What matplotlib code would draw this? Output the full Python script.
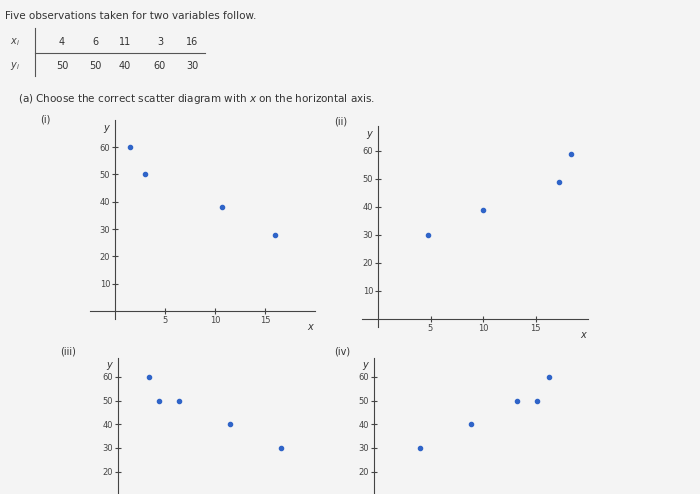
import matplotlib
matplotlib.use("Agg")
import matplotlib.pyplot as plt
from matplotlib.lines import Line2D

W, H = 700, 494
x_obs = [4, 6, 11, 3, 16]
y_obs = [50, 50, 40, 60, 30]
# points
p1x = [1.5, 3, 10.7, 16]; p1y = [60, 50, 38, 28]
p2x = [18.4, 17.2, 10, 4.8]; p2y = [59, 49, 39, 30]
p3x = [3, 4, 6, 11, 16]; p3y = [60, 50, 50, 40, 30]
p4x = [4.5, 9.5, 14, 16, 17.2]; p4y = [30, 40, 50, 50, 60]

fig = plt.figure(figsize=(7, 4.94), dpi=100)
fig.patch.set_facecolor("#f4f4f4")
def fx(px): return px / W
def fy(py): return 1 - py / H

fig.text(fx(5), fy(16), "Five observations taken for two variables follow.", fontsize=7.5, va="center", color="#333")
fig.text(fx(10), fy(42), "$x_i$", fontsize=7, va="center", color="#444")
fig.text(fx(10), fy(66), "$y_i$", fontsize=7, va="center", color="#444")
xs = [62, 95, 125, 160, 192]
for i in range(5):
    fig.text(fx(xs[i]), fy(42), str(x_obs[i]), fontsize=7, ha="center", va="center", color="#333")
    fig.text(fx(xs[i]), fy(66), str(y_obs[i]), fontsize=7, ha="center", va="center", color="#333")
fig.add_artist(Line2D([fx(35), fx(35)], [fy(28), fy(76)], color="#555", lw=0.8))
fig.add_artist(Line2D([fx(35), fx(205)], [fy(53), fy(53)], color="#555", lw=0.8))
fig.text(fx(18), fy(99), "(a) Choose the correct scatter diagram with $x$ on the horizontal axis.", fontsize=7.5, va="center", color="#333")
for lab, px, py in [("(i)", 40, 119), ("(ii)", 334, 122), ("(iii)", 60, 352), ("(iv)", 334, 352)]:
    fig.text(fx(px), fy(py), lab, fontsize=7, va="center", color="#333")

def panel(x0, xs_, y0, ys_, xlim, ylim, px, py, full=True):
    left = x0 + xlim[0] * xs_
    right = x0 + xlim[1] * xs_
    top = y0 - ylim[1] * ys_
    bot = y0 - ylim[0] * ys_
    ax = fig.add_axes([fx(left), fy(bot), (right - left) / W, (bot - top) / H])
    ax.set_facecolor("none")
    ax.set_xlim(*xlim); ax.set_ylim(*ylim)
    for s in ["top", "right"]:
        ax.spines[s].set_visible(False)
    ax.spines["left"].set_position(("data", 0))
    for s in ["left", "bottom"]:
        ax.spines[s].set_color("#444"); ax.spines[s].set_linewidth(0.8)
    ax.tick_params(direction="inout", length=5, labelsize=6, colors="#444", pad=1)
    if full:
        ax.spines["bottom"].set_position(("data", 0))
        ax.set_xticks([5, 10, 15]); ax.set_yticks([10, 20, 30, 40, 50, 60])
        ax.text(19.5, -4, "x", fontsize=7, ha="center", va="top", style="italic", color="#333")
    else:
        ax.spines["bottom"].set_visible(False)
        ax.set_xticks([]); ax.set_yticks([20, 30, 40, 50, 60])
    ax.scatter(px, py, s=9, color="#2f64c8", zorder=3, clip_on=False)
    ax.text(-0.6, ylim[1] - 1, "y", fontsize=7, ha="right", va="top", style="italic", color="#333")
    return ax

panel(115, 10, 311, 2.73, (-2.5, 20), (-3, 70), p1x, p1y)
panel(378, 10.5, 319, 2.8, (-1.5, 20), (-3, 69), p2x, p2y)
panel(118, 10.2, 519, 2.37, (-1, 20), (10.5, 68), p3x, p3y, full=False)
panel(374, 10.2, 519, 2.37, (-1, 20), (10.5, 68), p4x, p4y, full=False)

fig.savefig("out.png", dpi=100, facecolor=fig.get_facecolor())
